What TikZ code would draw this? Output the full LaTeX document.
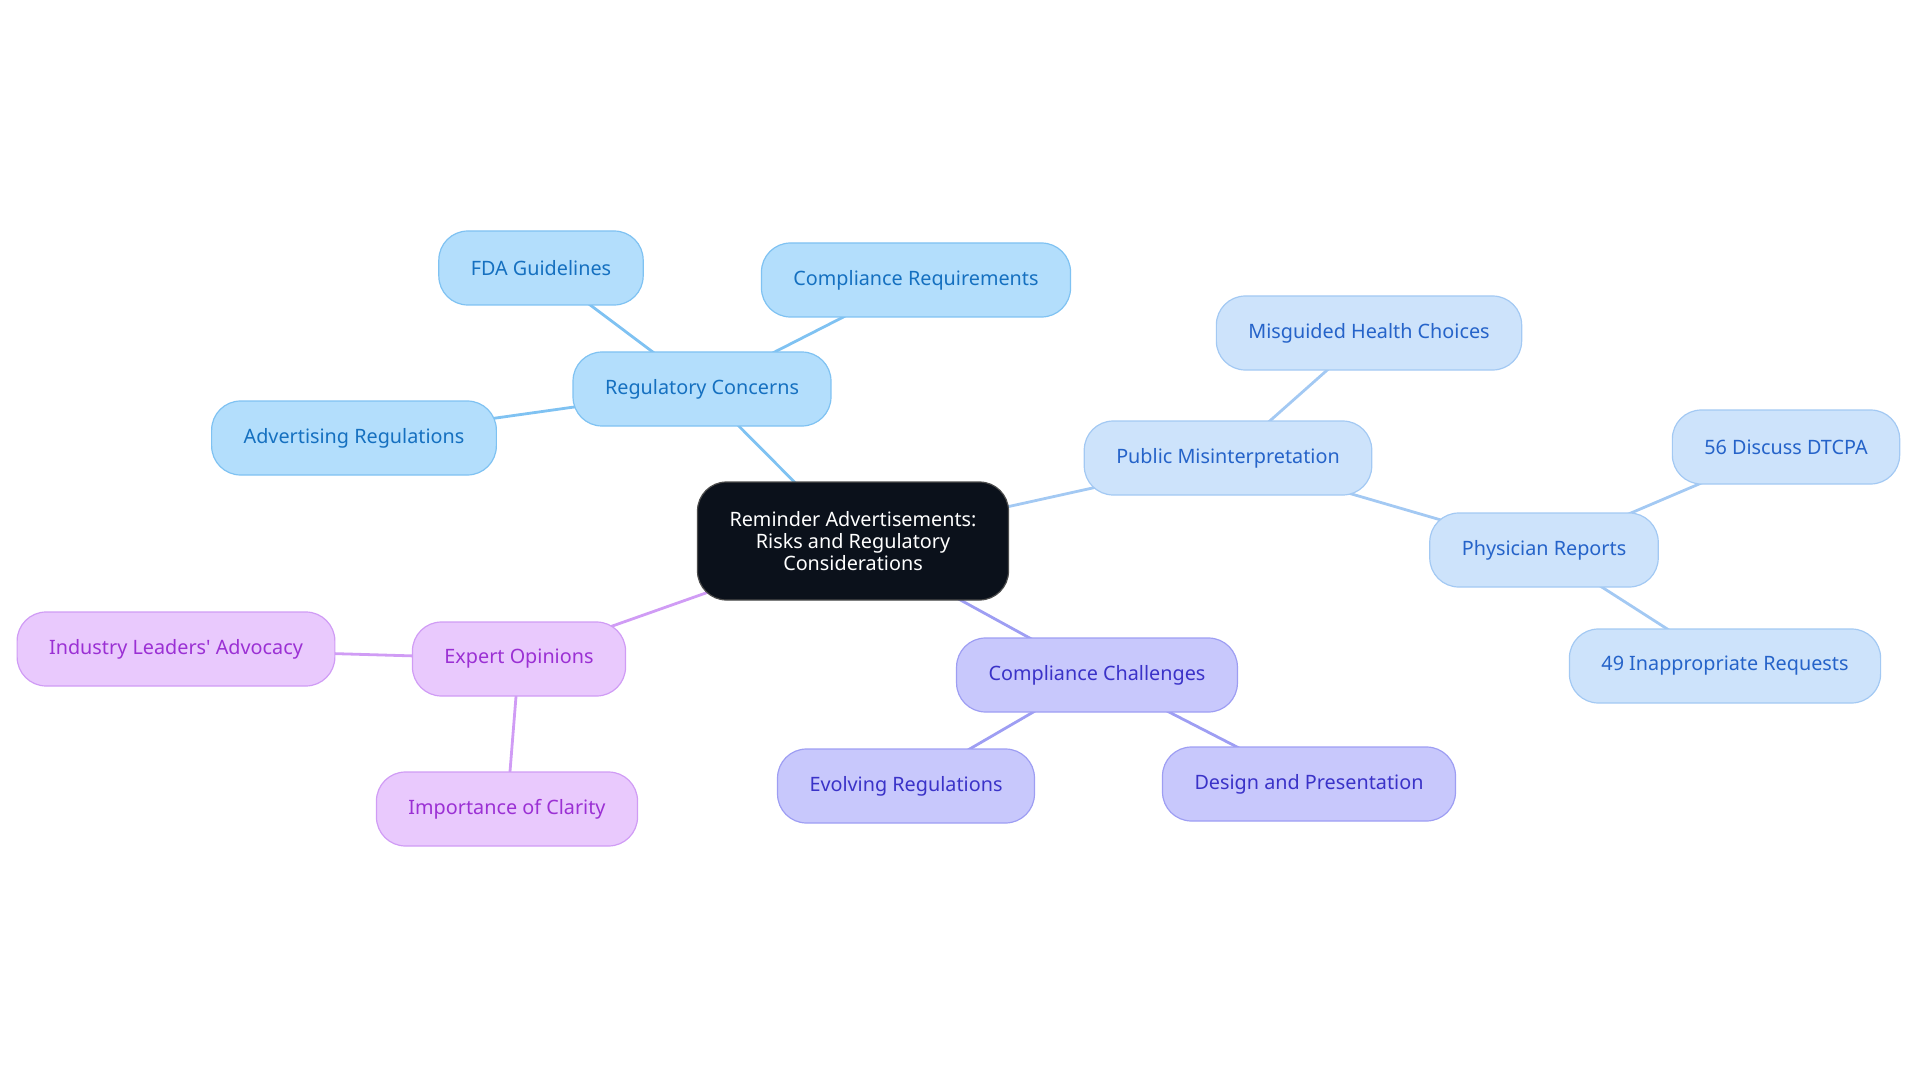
\documentclass[tikz,border=0pt]{standalone}
\usepackage{fontspec}
\setmainfont{Noto Sans}
\usepackage{tikz}
\usetikzlibrary{calc}
\usetikzlibrary{positioning}
\usetikzlibrary{shapes.misc}
\usetikzlibrary{backgrounds}
\definecolor{regfill}{HTML}{B3DEFC}
\definecolor{regdraw}{HTML}{7FC2F2}
\definecolor{regtext}{HTML}{1570C0}
\definecolor{pubfill}{HTML}{CDE3FB}
\definecolor{pubdraw}{HTML}{A3C9F3}
\definecolor{pubtext}{HTML}{2563C9}
\definecolor{compfill}{HTML}{C8C8FC}
\definecolor{compdraw}{HTML}{9E9EF3}
\definecolor{comptext}{HTML}{3A32C8}
\definecolor{expfill}{HTML}{E9C9FD}
\definecolor{expdraw}{HTML}{D09CF5}
\definecolor{exptext}{HTML}{9B30D4}
\definecolor{rootfill}{HTML}{0B111B}
\tikzstyle{topic}=[%
  draw,
  line width=1.2pt,
  rounded corners=29pt,
  minimum height=74pt,
  inner xsep=32pt,
  font=\fontsize{19.8}{22}\selectfont
]
\tikzstyle{root}=[%
  topic,
  fill=rootfill,
  draw=black!70,
  text=white,
  minimum height=118pt,
  minimum width=311pt,
  align=center
]
\tikzstyle{reg}=[topic, fill=regfill, draw=regdraw, text=regtext]
\tikzstyle{pub}=[topic, fill=pubfill, draw=pubdraw, text=pubtext]
\tikzstyle{comp}=[topic, fill=compfill, draw=compdraw, text=comptext]
\tikzstyle{exp}=[topic, fill=expfill, draw=expdraw, text=exptext]
\tikzstyle{branch}=[line width=2.8pt]

\begin{document}
\begin{tikzpicture}[x=1pt, y=-1pt]
      \useasboundingbox (0, 0) rectangle (1920, 1083);
      \node[root] (root) at (853, 541) {Reminder Advertisements:\\Risks and Regulatory\\Considerations};
      \node[reg] (regc) at (702, 389) {Regulatory Concerns};
      \node[reg] (fda) at (541, 268) {FDA Guidelines};
      \node[reg] (creq) at (916, 280) {Compliance Requirements};
      \node[reg] (adv) at (354, 438) {Advertising Regulations};
      \node[pub] (pubm) at (1228, 458) {Public Misinterpretation};
      \node[pub] (misg) at (1369, 333) {Misguided Health Choices};
      \node[pub] (phys) at (1544, 550) {Physician Reports};
      \node[pub] (dtcpa) at (1786, 447) {56 Discuss DTCPA};
      \node[pub] (inap) at (1725, 666) {49 Inappropriate Requests};
      \node[comp] (compc) at (1097, 675) {Compliance Challenges};
      \node[comp] (evol) at (906, 786) {Evolving Regulations};
      \node[comp] (design) at (1309, 784) {Design and Presentation};
      \node[exp] (expo) at (519, 659) {Expert Opinions};
      \node[exp] (lead) at (176, 649) {Industry Leaders\textquotesingle{} Advocacy};
      \node[exp] (clar) at (507, 809) {Importance of Clarity};
      \begin{scope}[on background layer]
        \foreach \a/\b in {root/regc, regc/fda, regc/creq, regc/adv} {%
          \draw[branch, regdraw] (\a.center) -- (\b.center);
        }
        \foreach \a/\b in {root/pubm, pubm/misg, pubm/phys, phys/dtcpa, phys/inap} {%
          \draw[branch, pubdraw] (\a.center) -- (\b.center);
        }
        \foreach \a/\b in {root/compc, compc/evol, compc/design} {%
          \draw[branch, compdraw] (\a.center) -- (\b.center);
        }
        \foreach \a/\b in {root/expo, expo/lead, expo/clar} {%
          \draw[branch, expdraw] (\a.center) -- (\b.center);
        }
      \end{scope}
    \end{tikzpicture}
\end{document}
